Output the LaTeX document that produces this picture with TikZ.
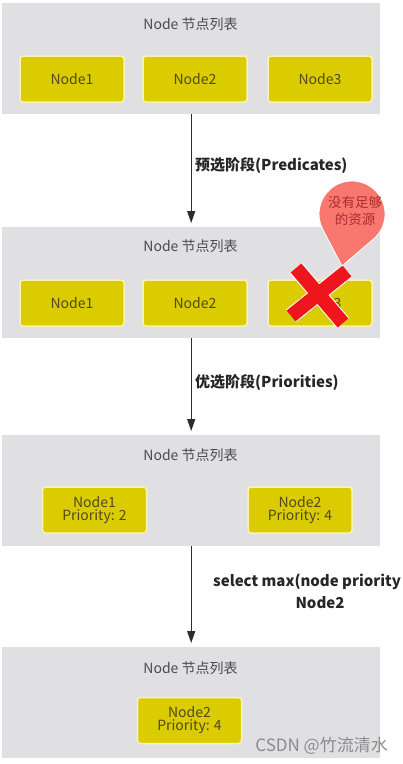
\documentclass[tikz,border=0pt]{standalone}
\usepackage{fontspec}
\setmainfont{Noto Sans CJK SC}
\usetikzlibrary{arrows.meta,calc}
\definecolor{panelgray}{RGB}{224,224,227}
\definecolor{nodeyellow}{RGB}{218,204,0}
\definecolor{nodeedge}{RGB}{248,244,180}
\definecolor{titlegray}{RGB}{75,75,75}
\definecolor{nodetext}{RGB}{80,75,25}
\definecolor{bubblecol}{RGB}{248,120,112}
\definecolor{bubbletext}{RGB}{170,45,45}
\definecolor{xred}{RGB}{238,22,28}
\definecolor{arrowcol}{RGB}{45,45,45}
\definecolor{wmgray}{RGB}{140,140,140}
\begin{document}
\begin{tikzpicture}[x=1pt,y=-1pt,
  panel/.style={fill=panelgray, draw=none, minimum width=378pt, minimum height=111pt, inner sep=0pt, anchor=north west},
  title/.style={text=titlegray, font=\fontsize{14}{16}\selectfont},
  nbox/.style={fill=nodeyellow, draw=nodeedge, line width=1.5pt, rounded corners=3pt, minimum width=104pt, minimum height=46pt, inner sep=0pt, text=nodetext, font=\fontsize{14}{16}\selectfont, align=center},
  arr/.style={draw=arrowcol, line width=1.3pt, -{Triangle[length=12pt,width=8pt]}, shorten >=4pt},
  lbl/.style={font=\bfseries\fontsize{15}{17}\selectfont, text=black!85, inner sep=0pt},
  wm/.style={text=wmgray, font=\fontsize{17}{19}\selectfont, inner sep=0pt}
]
\useasboundingbox[fill=white] (0,0) rectangle (403,764);

% panels
\node[panel] (p1) at (2,3) {};
\node[panel] (p2) at (2,227) {};
\node[panel] (p3) at (2,435) {};
\node[panel] (p4) at (2,647) {};

% titles
\node[title] (t1) at (190.5,24) {Node 节点列表};
\node[title] (t2) at (190.5,246) {Node 节点列表};
\node[title] (t3) at (190.5,455) {Node 节点列表};
\node[title] (t4) at (190.5,668) {Node 节点列表};

% panel 1 nodes
\node[nbox] (a1) at (72,79) {Node1};
\node[nbox] (a2) at (195,79) {Node2};
\node[nbox] (a3) at (320,79) {Node3};

% panel 2 nodes
\node[nbox] (b1) at (72,303) {Node1};
\node[nbox] (b2) at (195,303) {Node2};
\node[nbox] (b3) at (320,303) {Node3};

% panel 3 nodes
\node[nbox] (c1) at (94.5,510) {Node1\\[-3pt]Priority: 2};
\node[nbox] (c2) at (300,510) {Node2\\[-3pt]Priority: 4};

% panel 4 node
\node[nbox] (d1) at (189.5,720.5) {Node2\\[-3pt]Priority: 4};

% red cross over Node3
\coordinate (xa) at (296,268);
\coordinate (xb) at (343,323);
\coordinate (xc) at (347,271);
\coordinate (xd) at (291,316);
\draw[white, line width=16pt] (xa) -- (xb);
\draw[white, line width=16pt] (xc) -- (xd);
\draw[xred, line width=14pt] (xa) -- (xb);
\draw[xred, line width=14pt] (xc) -- (xd);

% speech bubble
\coordinate (bc) at (352,214);
\coordinate (btip) at (342,266);
\filldraw[fill=bubblecol, draw=white, line width=0.8pt] (btip) -- ($(bc)+(49.4:33)$) arc[start angle=49.4, end angle=-207.6, radius=33] -- cycle;
\node[text=bubbletext, font=\fontsize{13.5}{17}\selectfont, align=center, inner sep=0pt] (bt) at (355,211) {没有足够\\的资源};

% arrows
\draw[arr] (p1.south) -- (p2.north);
\draw[arr] (p2.south) -- (p3.north);
\draw[arr] (p3.south) -- (p4.north);

% arrow labels
\node[lbl, anchor=west] (l1) at (195,165) {预选阶段(Predicates)};
\node[lbl, anchor=west] (l2) at (195,382) {优选阶段(Priorities)};
\node[lbl, anchor=west] (l3) at (213,582) {select max(node priority};
\node[lbl] (l4) at (320,603) {Node2};

% watermark
\node[wm, anchor=east] (wm) at (388,746) {CSDN @竹流清水};
\end{tikzpicture}
\end{document}
